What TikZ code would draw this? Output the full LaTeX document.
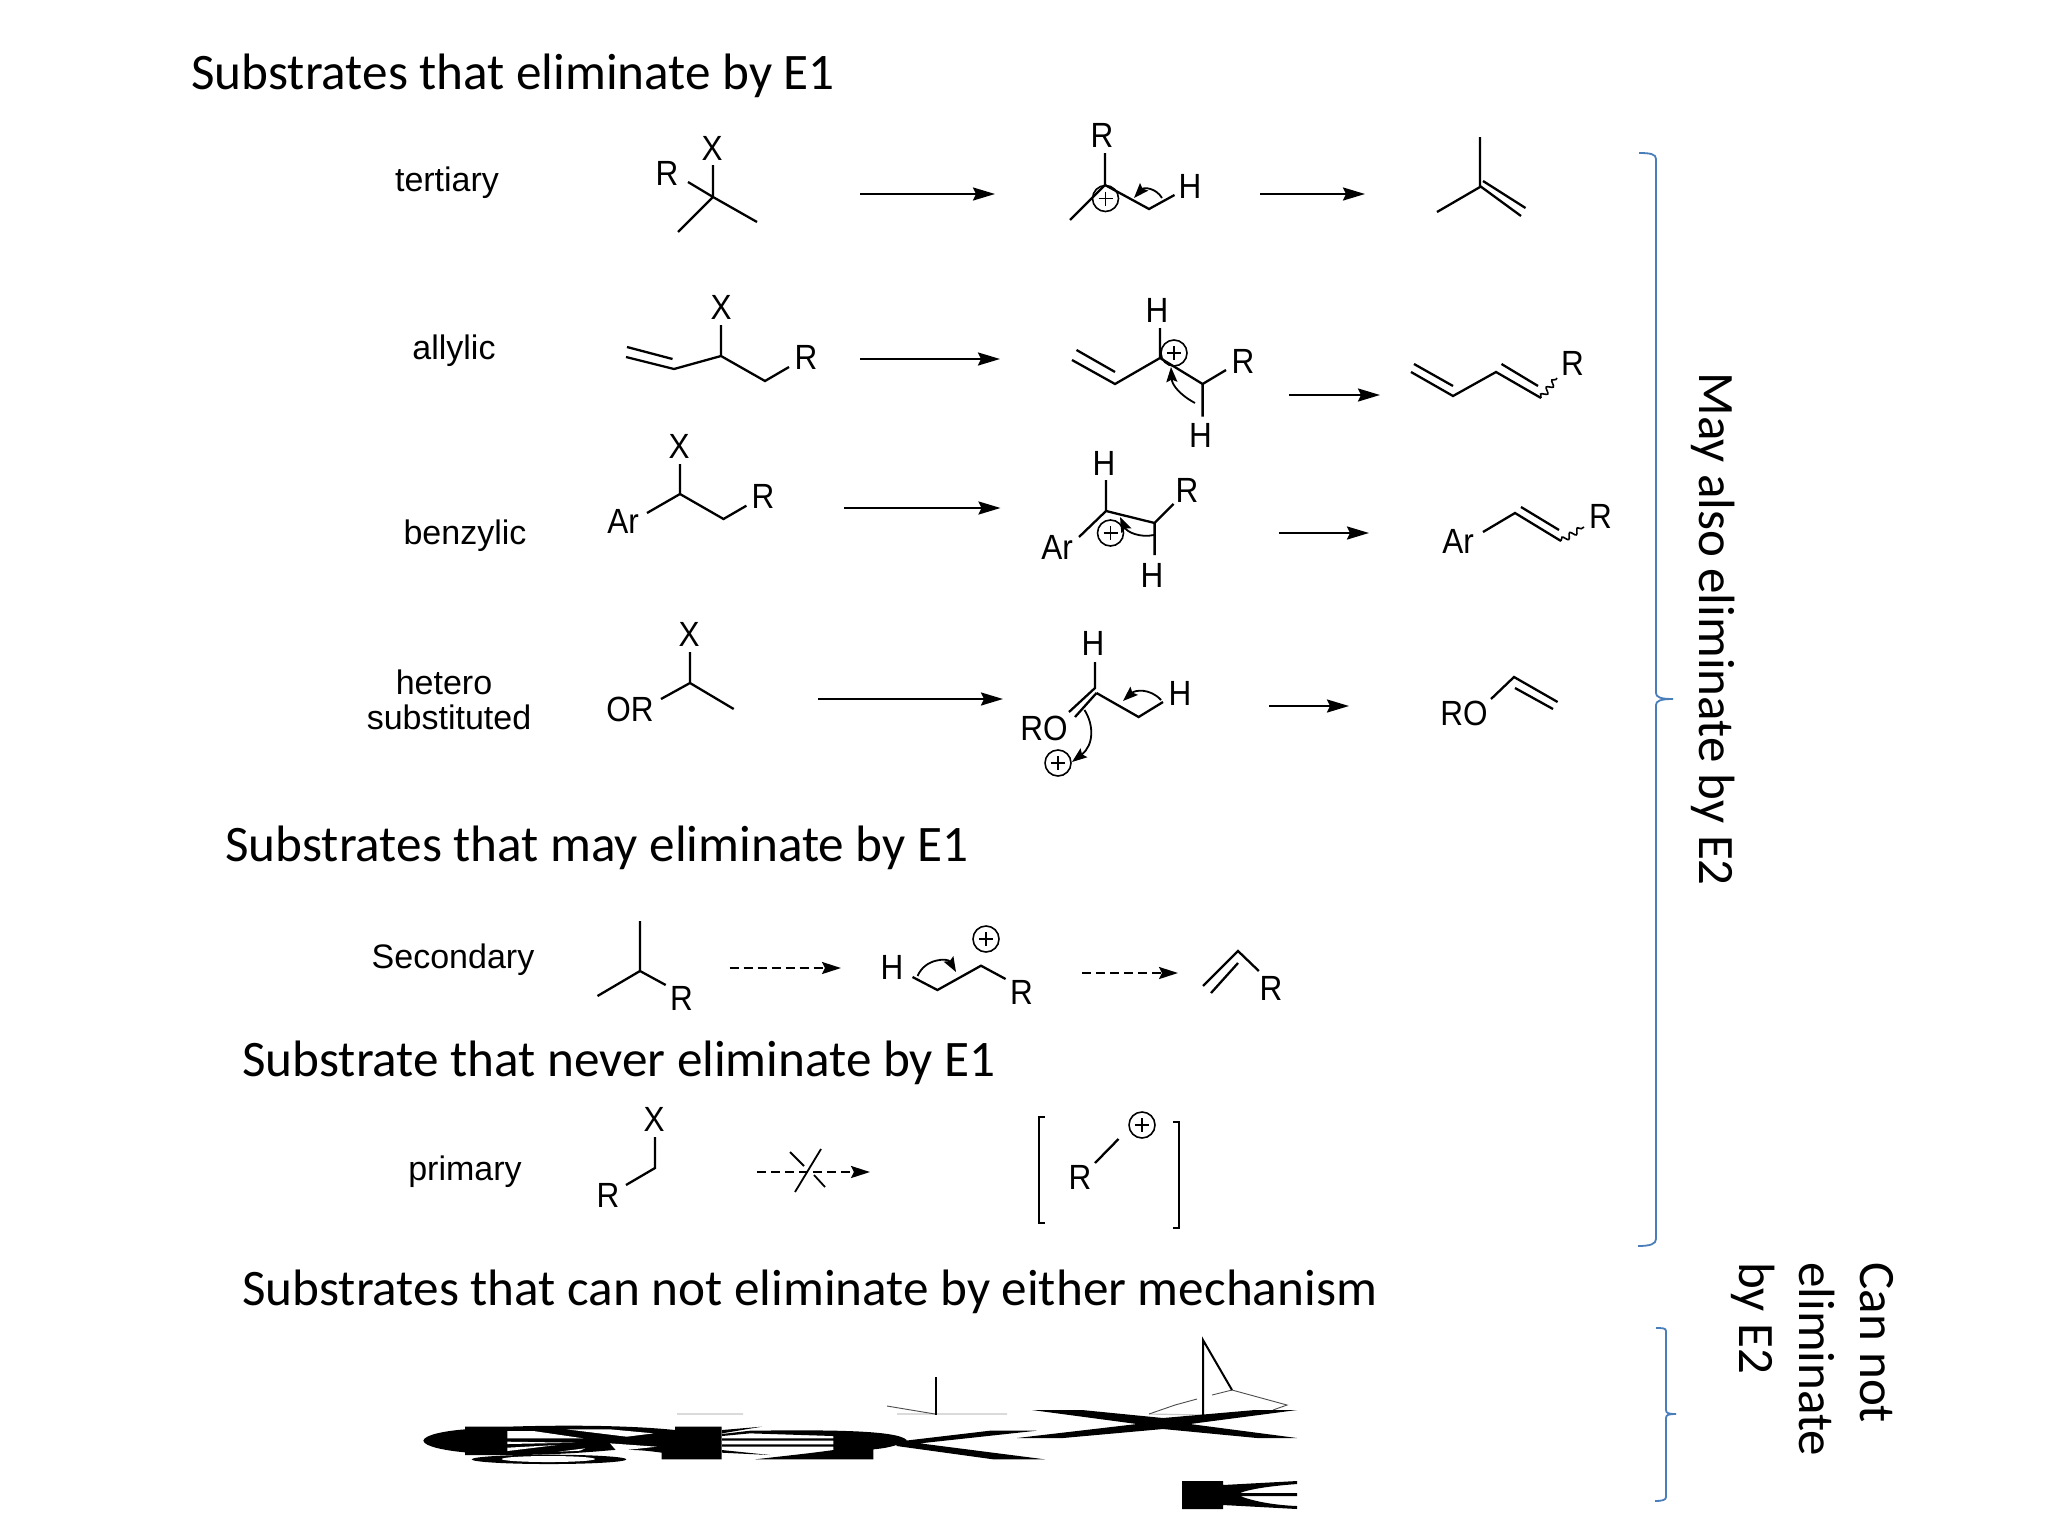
\documentclass[tikz,border=0pt]{standalone}
\usepackage{fontspec}
\usetikzlibrary{arrows.meta,decorations.pathmorphing}
\setmainfont{Liberation Sans}
\newfontfamily\headfont{Carlito}
\newfontfamily\molfont[FakeStretch=0.9]{Liberation Sans}
\definecolor{bracketblue}{HTML}{4A7EBB}
\tikzset{
  x=0.5pt,y=-0.5pt,
  head/.style={anchor=west,inner sep=0,font=\headfont\fontsize{25.6}{30}\selectfont},
  side/.style={rotate=-90,anchor=base west,inner sep=0,font=\headfont\fontsize{25.5}{30}\selectfont},
  cat/.style={inner sep=0,font=\fontsize{17}{20}\selectfont},
  atom/.style={inner sep=0,font=\molfont\fontsize{17.5}{20}\selectfont},
  bond/.style={line width=1.15pt,line join=miter},
  rxn/.style={line width=1.15pt,-{Stealth[length=11pt,width=6.5pt,inset=1.5pt]}},
  maybe/.style={line width=1.15pt,dash pattern=on 4.5pt off 2.5pt,-{Stealth[length=9.5pt,width=6pt,inset=1.5pt]}},
  push/.style={line width=0.9pt,-{Stealth[length=7.5pt,width=5.5pt,inset=1.2pt]}},
  brace/.style={draw=bracketblue,line width=0.9pt},
  thinbond/.style={line width=0.45pt,draw=black!70},
  ghost/.style={line width=0.6pt,draw=black!22},
  wavy/.style={line width=0.8pt,decorate,decoration={snake,segment length=4.5pt,amplitude=1.4pt}},
  chg/.pic={\draw[line width=0.8pt] (0,0) circle (13);
            \draw[line width=0.7pt] (-7,0)--(7,0) (0,-7)--(0,7);}
}
\begin{document}
\begin{tikzpicture}
\useasboundingbox (0,0) rectangle (2048,1536);
\fill[white] (0,0) rectangle (2048,1536);
% headings
\node[head] (h1) at (191,76) {Substrates that eliminate by E1};
\node[head] (h2) at (225,848) {Substrates that may eliminate by E1};
\node[head] (h3) at (242,1063) {Substrate that never eliminate by E1};
\node[head] (h4) at (242,1292) {Substrates that can not eliminate by either mechanism};
\node[side] (s1) at (1699,372) {May also eliminate by E2};
\node[side] (s2) at (1860,1262) {Can not};
\node[side] (s3) at (1799,1262) {eliminate};
\node[side] (s4) at (1739,1262) {by E2};
% categories
\node[cat] (c1) at (447,183) {tertiary};
\node[cat] (c2) at (454,351) {allylic};
\node[cat] (c3) at (465,536) {benzylic};
\node[cat] (c4a) at (444,682) {hetero};
\node[cat] (c4b) at (449,717) {substituted};
\node[cat] (c5) at (453,960) {Secondary};
\node[cat] (c6) at (465,1172) {primary};
% braces
\draw[brace] (1639,153) .. controls (1650,153) and (1656,154) .. (1656,159) -- (1656,693)
  .. controls (1656,697) and (1660,699) .. (1673,699) .. controls (1660,699) and (1656,701) .. (1656,705)
  -- (1656,1239) .. controls (1656,1244) and (1650,1246) .. (1638,1246);
\draw[brace] (1656,1328) .. controls (1662,1328) and (1666,1328) .. (1666,1331) -- (1666,1410)
  .. controls (1666,1413) and (1668,1414) .. (1676,1414) .. controls (1668,1414) and (1666,1415) .. (1666,1418)
  -- (1666,1497) .. controls (1666,1500) and (1662,1501) .. (1655,1501);
% ---- tertiary
\draw[bond] (713,165)--(713,197) (688,182)--(713,197)--(757,222) (713,197)--(678,232);
\node[atom] (a1) at (667,173) {R};
\node[atom] (a2) at (712,148) {X};
\draw[rxn] (860,194)--(995,194);
\node[atom] (a3) at (1102,135) {R};
\draw[bond] (1105,153)--(1105,185) (1070,220)--(1105,185)--(1149,209)--(1174.5,195);
\node[atom] (a4) at (1190,186) {H};
\pic at (1105.5,198.5) {chg};
\draw[push] (1162,198) .. controls (1156,188) and (1144,187) .. (1134,198);
\draw[rxn] (1260,194)--(1365,194);
\draw[bond] (1480,137)--(1480,187)--(1437,212) (1480,186)--(1521,216) (1483,181)--(1525.5,208);
% ---- allylic
\draw[bond] (626,357)--(674,369)--(721,356)--(721,325) (721,356)--(765,381)--(789,367) (627,347)--(672.5,359);
\node[atom] (a5) at (721,307) {X};
\node[atom] (a6) at (806,357) {R};
\draw[rxn] (860,359)--(1000,359);
\node[atom] (a7) at (1157,310) {H};
\draw[bond] (1160,328)--(1160,358) (1072,360)--(1115,384)--(1160,358)--(1202.6,384)--(1226,370)
  (1076.5,350)--(1115,372) (1202.6,384)--(1202.6,416.7);
\node[atom] (a8) at (1243,361) {R};
\node[atom] (a9) at (1200.5,435) {H};
\pic at (1174,353) {chg};
\draw[push] (1195,403) .. controls (1180,395) and (1172,385) .. (1171,367);
\draw[rxn] (1289,395)--(1380,395);
\draw[bond] (1411,372)--(1453,396)--(1496,372)--(1541,398) (1414,364)--(1453,386) (1501.5,364)--(1538,386);
\draw[wavy] (1541,398)--(1557,378);
\node[atom] (a10) at (1572.5,363) {R};
% ---- benzylic
\node[atom] (a11) at (679,446) {X};
\draw[bond] (680,464)--(680,494)--(647,513) (680,494)--(723.5,519)--(746.4,505.7);
\node[atom] (a12) at (623,521) {Ar};
\node[atom] (a13) at (763,496) {R};
\draw[rxn] (844,508)--(1000.5,508);
\node[atom] (a14) at (1104,463) {H};
\draw[bond] (1106,480)--(1106,511)--(1079,537) (1106,511)--(1154.6,523)--(1173.5,504) (1154.6,523)--(1154.6,555);
\node[atom] (a15) at (1057,547) {Ar};
\node[atom] (a16) at (1187,490) {R};
\node[atom] (a17) at (1152,575) {H};
\pic at (1110.5,533) {chg};
\draw[push] (1154,535) .. controls (1140,538) and (1127,532) .. (1120,517);
\draw[rxn] (1279,533)--(1369,533);
\node[atom] (a18) at (1458,541) {Ar};
\draw[bond] (1483,532)--(1515,513)--(1561,541) (1521,507)--(1559,530);
\draw[wavy] (1561,541)--(1584,527);
\node[atom] (a19) at (1600.5,516) {R};
% ---- hetero
\node[atom] (a20) at (689,634) {X};
\draw[bond] (690,652)--(690,683)--(661,699) (690,683)--(733.7,709);
\node[atom] (a21) at (630,709) {OR};
\draw[rxn] (818,699)--(1003,699);
\node[atom] (a22) at (1093,643) {H};
\draw[bond] (1095,662)--(1095,688)--(1069,712) (1096.5,693)--(1075,717) (1096.5,693)--(1138.6,717)--(1163,702);
\node[atom] (a23) at (1180,693) {H};
\node[atom] (a24) at (1044,728) {RO};
\pic at (1058,763) {chg};
\draw[push] (1161,700) .. controls (1150,688) and (1135,690) .. (1123,701);
\draw[push] (1084.5,710) .. controls (1094,725) and (1094,745) .. (1072,762);
\draw[rxn] (1269,706)--(1349,706);
\node[atom] (a25) at (1464,713) {RO};
\draw[bond] (1491,699)--(1514,677)--(1557.6,702) (1515,688)--(1553,709);
% ---- secondary
\draw[bond] (640,921)--(640,971)--(597.5,996) (640,971)--(665.7,985);
\node[atom] (a26) at (681.6,998) {R};
\draw[maybe] (729.5,968)--(841,968);
\node[atom] (a27) at (892,967) {H};
\draw[bond] (912.5,977)--(937.4,990)--(981,965.7)--(1005.6,979);
\node[atom] (a28) at (1021.6,992) {R};
\pic at (986,939) {chg};
\draw[push] (917.6,976) .. controls (925,958) and (948,958) .. (956,972);
\draw[maybe] (1082,973)--(1178,973);
\draw[bond] (1203,986)--(1238,951)--(1258.8,971) (1238,963)--(1211,993);
\node[atom] (a29) at (1271,988) {R};
% ---- primary
\node[atom] (a30) at (654,1119) {X};
\draw[bond] (655,1137)--(655,1168)--(626,1185);
\node[atom] (a31) at (608,1195) {R};
\draw[maybe] (757,1172)--(870,1172);
\draw[line width=0.9pt] (821,1149)--(795,1192) (790,1152)--(804,1166) (814,1175)--(825,1187);
\draw[bond] (1045,1117)--(1039,1117)--(1039,1223)--(1045,1223) (1173,1122)--(1179,1122)--(1179,1228)--(1173,1228);
\node[atom] (a32) at (1080,1177) {R};
\draw[bond] (1095,1163)--(1118.5,1139);
\pic at (1142,1125) {chg};
% ---- garbled bottom row (drawn as plain shapes)
\draw[ghost] (677,1414)--(743,1414) (897,1414)--(1007,1414) (1149,1414)--(1203,1415);
\draw[thinbond] (887,1406)--(935,1414) (1232,1390)--(1287,1405)--(1273,1410) (1232,1390)--(1212,1395)
  (1197,1399)--(1175,1405)--(1149,1414);
\draw[line width=0.9pt] (936,1377)--(936,1415);
\draw[line width=1pt] (1203,1415)--(1203,1340)--(1232,1390);
\begin{scope}[shift={(410,1400)},x=0.1667pt,y=-0.1667pt]
  \fill (417,178) ellipse [x radius=232,y radius=14];
  \fill[white] (415,177) ellipse [x radius=140,y radius=9];
  \fill (40,122) .. controls (42,104) and (110,92) .. (165,88) -- (165,80) -- (290,80)
     .. controls (450,75) and (650,75) .. (795,90) -- (795,80) -- (935,80) -- (935,178) -- (755,178) -- (755,158)
     .. controls (700,150) and (660,148) .. (610,150) .. controls (500,160) and (400,165) .. (290,165)
     -- (165,165) -- (165,157) .. controls (110,152) and (42,140) .. (40,122) -- cycle;
  \fill[white] (292,93)--(370,93)--(520,115)--(292,115)--cycle
     (292,125)--(495,128)--(292,132)--cycle
     (292,143)--(440,135)--(292,153)--cycle
     (470,88)--(600,88)--(730,100)--(650,110)--cycle
     (600,130)--(740,140)--(620,153)--cycle
     (445,155)--(525,145)--(510,152)--cycle;
\end{scope}
\begin{scope}[shift={(750,1400)},x=0.1667pt,y=-0.1667pt]
  \fill (-84,90)--(35,80)--(-84,100)--cycle
     (-84,102)--(0,92) .. controls (200,90) and (440,88) .. (470,120) .. controls (440,140) and (400,145) .. (370,148)
       --(370,178)--(250,178)--(250,108)--(0,100)--(-84,108)--cycle
     (-84,115)--(250,115)--(250,122)--(-84,122)--cycle
     (-84,133)--(250,133)--(250,140)--(-84,140)--cycle
     (-84,150)--(60,165)--(-84,158)--cycle
     (15,178) .. controls (100,168) and (180,160) .. (250,150)--(250,178)--cycle
     (440,125)--(720,92)--(860,92)--(510,130)--(885,178)--(730,178)--(440,138)--cycle;
\end{scope}
\fill (1032,1410)--(1082,1410)--(1163,1418)--(1255,1410)--(1297,1410)--(1190,1424)--(1297,1438)--(1257,1438)
   --(1163,1429)--(1063,1438)--(1017,1438)--(1137,1424)--cycle;
\fill (1182,1481)--(1223,1481)--(1223,1485)--(1297,1481)--(1297,1484) .. controls (1270,1486) and (1250,1489) .. (1240,1493)
   --(1297,1493)--(1297,1496)--(1240,1496) .. controls (1250,1500) and (1270,1505) .. (1297,1506)--(1297,1509)
   --(1223,1505)--(1223,1509)--(1182,1509)--cycle;
\end{tikzpicture}
\end{document}
